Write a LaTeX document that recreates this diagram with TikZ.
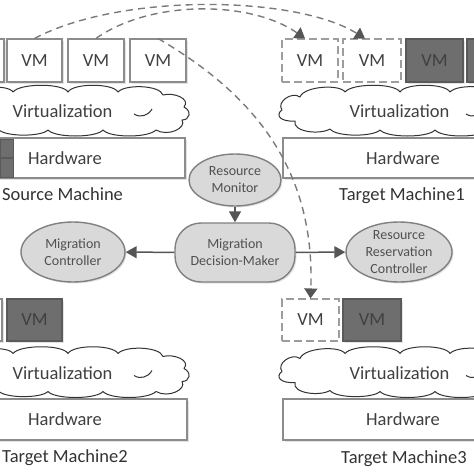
\documentclass[tikz,border=0pt]{standalone}
\usepackage{fontspec}
\setmainfont{Carlito}
\usetikzlibrary{shapes.geometric,arrows.meta,shadows,calc}
\definecolor{bord}{HTML}{8C8C8C}
\definecolor{txt}{HTML}{404040}
\definecolor{vmgray}{HTML}{6E6E6E}
\definecolor{vmgrayb}{HTML}{5A5A5A}
\definecolor{elfill}{HTML}{D9D9D9}
\definecolor{elbord}{HTML}{808080}
\definecolor{eltxt}{HTML}{505050}
\definecolor{dashc}{HTML}{7A7A7A}
\definecolor{arrc}{HTML}{555555}
\begin{document}
\begin{tikzpicture}[x=1pt,y=-1pt,
  bigfont/.style={font=\fontsize{18.5}{21}\selectfont},
  shad/.style={drop shadow={shadow xshift=1.5pt,shadow yshift=-1.5pt,opacity=0.22}},
  vmbox/.style={draw=bord,line width=1.1pt,fill=white,minimum height=43pt,inner sep=0pt,text=txt,bigfont,shad},
  vmdash/.style={draw=bord!85,line width=1.1pt,dash pattern=on 8pt off 4pt,fill=white,minimum height=43pt,inner sep=0pt,text=txt,bigfont},
  vmdark/.style={draw=vmgrayb,line width=1.1pt,fill=vmgray,minimum height=43pt,inner sep=0pt,text=black!75,bigfont,shad},
  hwbox/.style={draw=bord,line width=1.1pt,fill=white,minimum height=40pt,minimum width=240pt,inner sep=0pt,text=txt,bigfont,shad},
  cloudline/.style={draw=black!80,line width=1pt,line join=round},
  vtext/.style={inner sep=0pt,text=txt,bigfont,anchor=base},
  lbl/.style={inner sep=0pt,text=black!80,bigfont,anchor=base west},
  ell/.style={ellipse,draw=elbord,line width=1.4pt,fill=elfill,inner sep=0pt,align=center,text=eltxt,font=\fontsize{14}{17}\selectfont,shad},
  dmst/.style={rectangle,rounded corners=26pt,draw=elbord,line width=1.4pt,fill=elfill,inner sep=0pt,align=center,text=eltxt,font=\fontsize{14}{17}\selectfont,minimum width=120pt,minimum height=59pt,shad},
  migline/.style={draw=dashc,line width=1.4pt,dash pattern=on 7pt off 5pt,-{Triangle[length=10pt,width=13pt,fill=arrc,color=arrc]}},
  solidarr/.style={draw=arrc,line width=1.5pt,-{Triangle[length=11pt,width=12pt]}},
  vcloud/.pic={
    \filldraw[cloudline,fill=white] (-118,0)
      .. controls (-124,-8) and (-108,-19) .. (-100,-13)
      .. controls (-96,-24) and (-60,-26) .. (-55,-18)
      .. controls (-48,-27) and (-5,-27) .. (0,-18)
      .. controls (5,-27) and (45,-27) .. (50,-18)
      .. controls (57,-26) and (92,-25) .. (95,-15)
      .. controls (106,-18) and (123,-11) .. (116,-3)
      .. controls (124,1) and (122,10) .. (114,10)
      .. controls (119,18) and (100,27) .. (88,20)
      .. controls (80,28) and (42,28) .. (35,20)
      .. controls (28,28) and (-13,28) .. (-20,20)
      .. controls (-27,27) and (-64,27) .. (-70,19)
      .. controls (-80,25) and (-108,22) .. (-105,11)
      .. controls (-120,12) and (-125,5) .. (-118,0) -- cycle;
    \draw[cloudline] (66,4) .. controls (72,8) and (80,6) .. (84,-1);
  }]
\useasboundingbox (0,0) rectangle (474,474);
\clip (0,0) rectangle (474,474);
% ---- Source machine
\node[vmbox,minimum width=54pt] (s0) at (-23,60.5) {};
\node[vmbox,minimum width=55pt] (s1) at (34.5,60.5) {VM};
\node[vmbox,minimum width=56pt] (s2) at (96,60.5) {VM};
\node[vmbox,minimum width=56pt] (s3) at (158,60.5) {VM};
\pic at (68,110) {vcloud};
\node[vtext] (sv) at (62.5,117) {Virtualization};
\node[hwbox] (sh) at (65,158) {Hardware};
\node[draw=vmgrayb,fill=vmgray,line width=0.8pt,minimum width=13pt,minimum height=18pt,inner sep=0pt] (sq1) at (6.5,148) {};
\node[draw=vmgrayb,fill=vmgray,line width=0.8pt,minimum width=13pt,minimum height=19pt,inner sep=0pt] (sq2) at (6.5,167.5) {};
\node[lbl] (ls) at (2,200) {Source Machine};
% ---- Target machine 1
\node[vmdash,minimum width=56pt] (t11) at (310,60.5) {VM};
\node[vmdash,minimum width=58pt] (t12) at (372,60.5) {VM};
\node[vmdark,minimum width=57pt] (t13) at (434.5,60.5) {VM};
\node[vmdark,minimum width=58pt] (t14) at (496,60.5) {};
\pic at (400,110) {vcloud};
\node[vtext] (v1) at (399.5,117) {Virtualization};
\node[hwbox] (h1) at (403,158) {Hardware};
\node[lbl] (l1) at (339,200) {Target Machine1};
% ---- Target machine 2
\node[vmbox,minimum width=54pt,minimum height=42pt] (t20) at (-25,320) {};
\node[vmdark,minimum width=55pt,minimum height=42pt] (t21) at (34.5,320) {VM};
\pic at (68,371.5) {vcloud};
\node[vtext] (v2) at (62.5,379) {Virtualization};
\node[hwbox,minimum height=41pt,minimum width=244pt] (h2) at (65,419.5) {Hardware};
\node[lbl] (l2) at (2,462) {Target Machine2};
% ---- Target machine 3
\node[vmdash,minimum width=57pt,minimum height=42pt] (t31) at (310.5,320) {VM};
\node[vmdark,minimum width=58pt,minimum height=42pt] (t32) at (372,320) {VM};
\pic at (400,371.5) {vcloud};
\node[vtext] (v3) at (399.5,379) {Virtualization};
\node[hwbox,minimum height=41pt] (h3) at (403,419.5) {Hardware};
\node[lbl] (l3) at (341,463) {Target Machine3};
% ---- Control components
\node[ell,minimum width=92pt,minimum height=52pt] (rm) at (235,180) {Resource\\Monitor};
\node[dmst] (dm) at (235,252.5) {Migration\\Decision-Maker};
\node[ell,minimum width=104pt,minimum height=60pt] (mc) at (73,252) {Migration\\Controller};
\node[ell,minimum width=106pt,minimum height=60pt,inner ysep=-5pt] (rrc) at (399,252) {Resource\\Reservation\\Controller};
\draw[solidarr] (rm) -- (dm);
\draw[solidarr] (dm) -- (mc);
\draw[solidarr] (dm) -- (rrc);
% ---- Migration paths
\draw[migline] (s1.north) .. controls (120,-7) and (295,-5) .. ($(t12.north)+(-7,0)$);
\draw[migline] (s2.north) .. controls (150,0) and (250,0) .. ($(t11.north)+(-5,0)$);
\draw[migline] (s3.north) .. controls (255,95) and (315,170) .. (t31.north);
\end{tikzpicture}
\end{document}
